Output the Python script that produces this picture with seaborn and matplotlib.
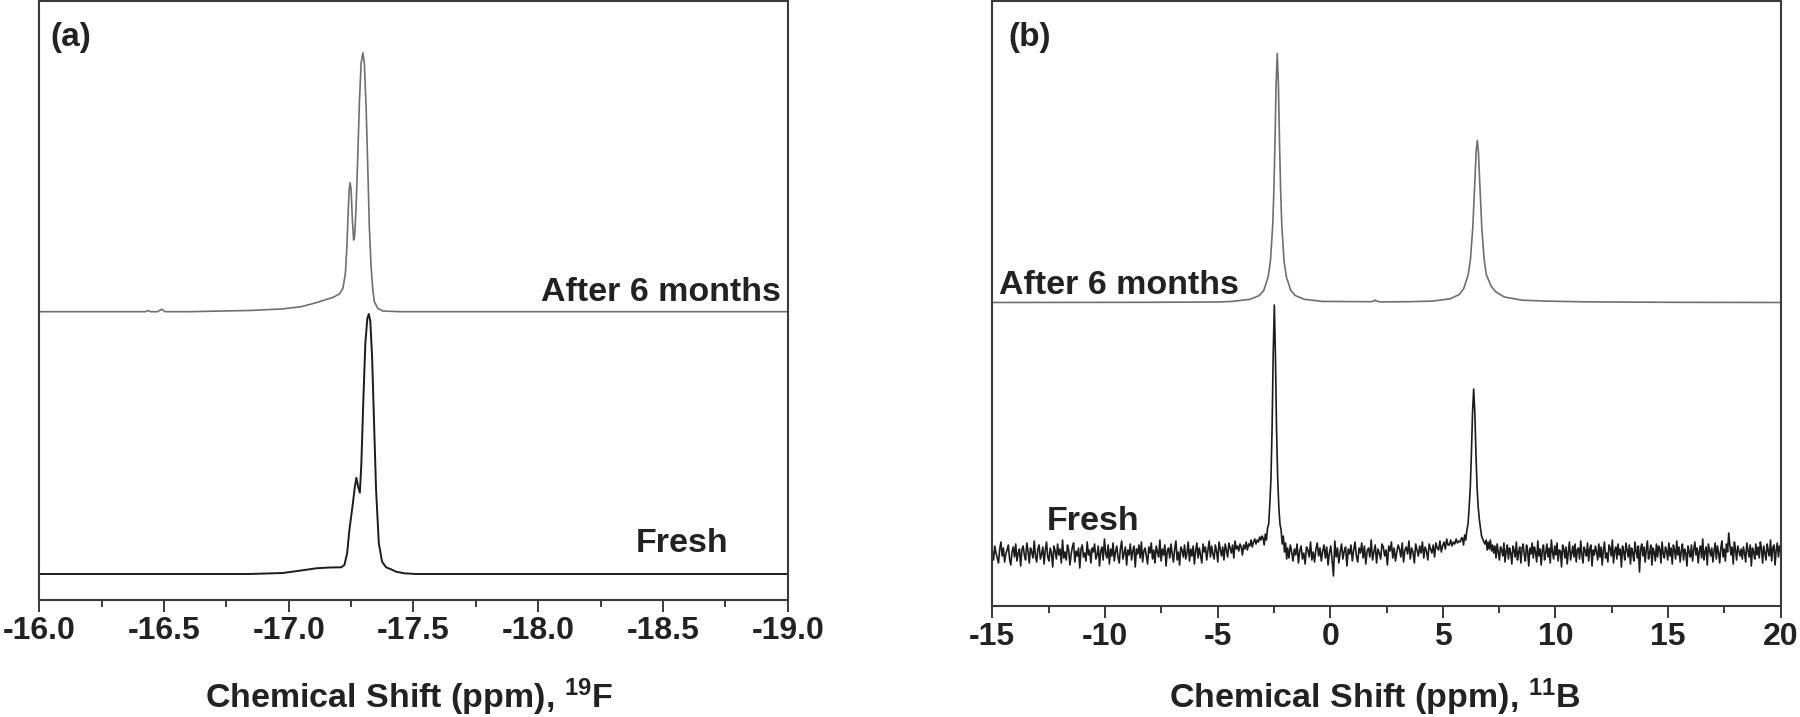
import numpy as np
import pandas as pd
import seaborn as sns
import matplotlib.pyplot as plt
from matplotlib.ticker import MultipleLocator, FormatStrFormatter

# ---------- (a) 19F spectra : ppm / intensity above own baseline ----------
f_after_ppm = [-16.0, -16.40, -16.425, -16.435, -16.445, -16.475, -16.49, -16.505,
               -16.6, -16.75, -16.842, -16.976, -17.05, -17.110, -17.177, -17.203,
               -17.217, -17.227, -17.233, -17.238, -17.242, -17.246, -17.250, -17.255,
               -17.260, -17.264, -17.270, -17.277, -17.283, -17.290, -17.297, -17.303,
               -17.310, -17.317, -17.323, -17.330, -17.337, -17.343, -17.357, -17.377,
               -17.444, -19.0]
f_after_int = [0, 0, 0, 1.2, 0, 0, 2.5, 0,
               0, 0.8, 1.2, 2.8, 5, 9, 14.3, 17.7,
               23.3, 38.3, 65, 98.3, 121.7, 129, 121.7, 91.7,
               71.7, 75, 105, 158.3, 208.3, 248.3, 259, 248.3,
               205, 141.7, 85, 45, 21.7, 10, 3.3, 0.7,
               0, 0]

f_fresh_ppm = [-16.0, -16.5, -16.842, -16.976, -17.043, -17.110, -17.163, -17.210,
               -17.223, -17.234, -17.243, -17.257, -17.265, -17.271, -17.278, -17.285,
               -17.291, -17.299, -17.307, -17.315, -17.321, -17.327, -17.334, -17.342,
               -17.350, -17.361, -17.374, -17.390, -17.410, -17.430, -17.463, -17.510,
               -18.2, -19.0]
f_fresh_int = [0, 0, 0, 1, 3.3, 5.7, 6.5, 6.7,
               9, 20.7, 44, 70.7, 87.3, 96.3, 87.3, 81.3,
               110.7, 174, 230.7, 255.7, 260, 252.3, 217.3, 150.7,
               84, 30.7, 12.3, 6.7, 4.7, 2.3, 0.7, 0,
               0, 0]

# ---------- (b) 11B spectra ----------
b_after_ppm = [-15, -8, -5, -4.35, -3.55, -3.15, -2.95, -2.75, -2.65, -2.55, -2.5, -2.45,
               -2.4, -2.35, -2.3, -2.25, -2.2, -2.15, -2.05, -1.95, -1.75, -1.55, -1.15,
               -0.35, 1.8, 1.95, 2.0, 2.05, 2.2, 3.5, 4.53, 5.33, 5.73, 5.93, 6.13, 6.23,
               6.33, 6.43, 6.48, 6.53, 6.58, 6.63, 6.73, 6.83, 6.93, 7.13, 7.33, 7.73,
               8.53, 9.53, 11.5, 15, 20]
b_after_int = [0, 0.2, 0.5, 1.1, 3.2, 7, 12, 26, 42, 78, 112, 161,
               219, 249, 219, 161, 112, 78, 42, 26, 12, 7, 3.2,
               1.1, 0.8, 1.5, 2.5, 1.5, 0.6, 0.8, 1.4, 3.7, 8, 14, 28, 44,
               75, 125, 151, 162, 151, 125, 75, 44, 28, 17, 11, 5.5,
               2.3, 1.4, 0.6, 0.2, 0]

# fresh sample: noisy baseline pieces and the two peaks
noise_1 = [3, -6, 8, 1, -4, -9, 5, 12, -2, 6, -8, 0, 4, 9, -5, -11, 2, 7, -3, 10,
           -7, 1, 5, -12, 4, 8, -1, -6, 11, 3, -9, 6, 2, -4, 13, -2, -8, 5, 9, -5,
           0, 7, -10, 4, 12, -3, -7, 6, 1, -13, 8, 3, -5, 10, -1, 5, -9, 14, -4, 2,
           -6, 9, 4, -11, 0, 7, 11, -8, 3, -2, 6, -14, 5, 9, -3, 1, -7, 12, -1, 4,
           -9, 6, 2, 10, -5, -1, 8, -12, 3, 7, -6, 15, 1, -4, 9, -10, 5, -2, 11, -7,
           2, 8, -3, -9, 6, 13, -5, 1, 7, -11, 4, -1, 10, -6, 3, 8, -13, 5, 0, 9,
           -4, 12, -8, 3, 6, -2, -10, 7, 1, 11, -5, 4, -9, 8, 2, -3, 14, -7, 5, -1,
           9, -12, 3, 6, -4, 10, 0, -8, 5, 13, -6, 2, -11, 7, 4, -3, 9, -5, 1, 12,
           -7, 5, -2, 8, -10, 3, 11, -4, 6, -1, -9, 10, 2, 7, -6, 4, 13, -3, 8, 0,
           -5, 9, 3, -8, 12, 5, -2, 7, -6, 10, 4, -3, 11, 6, 1, 9, -4, 13, 5, 8,
           3, 10, 7, -1, 9, 5, 12, 4, 10, 8, 14, 7, 12, 15, 10, 14, 12, 17, 14, 18]
peak1_ppm = [-2.98, -2.93, -2.88, -2.83, -2.78, -2.73, -2.68, -2.63, -2.58, -2.53, -2.48,
             -2.43, -2.38, -2.33, -2.28, -2.23, -2.18, -2.13, -2.08, -2.03, -1.98, -1.93]
peak1_int = [16, 9, 20, 14, 26, 30, 50, 75, 125, 200, 249,
             197, 123, 75, 47, 30, 24, 10, 18, 2, 11, -5]
noise_2 = [6, -4, 9, 2, -7, 5, -1, 10, -9, 3, 8, -5, 1, -10, 7, 4, -3, 12, -6, 2,
           -8, 5, 11, -2, 6, -7, 3, 9, -4, 7, -11, 1, 8, -6, -22, 13, -3, 6, -9, 2,
           10, -5, 3, 7, -12, 5, 0, 9, -7, 4, 12, -2, -8, 6, 1, 11, -4, 8, -10, 3,
           6, -3, 14, -6, 2, 9, -9, 5, 1, -5, 10, 7, -2, 4, -11, 8, 3, 12, -4, 6,
           -7, 2, 9, 5, -3, 11, -8, 4, 7, 0, 13, -5, 6, 2, -9, 10, 4, -2, 8, 1,
           12, -4, 7, 3, -6, 10, 5, 1, 9, -3, 11, 6, 4, 13, 2, 8, 12, 5, 15, 9,
           9, 14, 8, 12, 10, 15, 11, 13, 12, 16]
peak2_ppm = [5.87, 5.92, 5.97, 6.02, 6.07, 6.12, 6.17, 6.22, 6.27, 6.32, 6.37, 6.42,
             6.47, 6.52, 6.57, 6.62, 6.67, 6.72, 6.77, 6.82, 6.87, 6.92, 6.97]
peak2_int = [16, 9, 19, 14, 24, 30, 47, 67, 101, 142, 165, 142,
             101, 67, 47, 35, 26, 18, 15, 12, 10, 14, 4]
noise_3 = [12, 5, 14, 3, 9, 1, 8, -4, 10, 2, -6, 7, 4, -2, 11, -8, 3, 9, -5, 6,
           1, -10, 8, 4, -3, 12, -6, 2, 7, -9, 5, 10, -1, -7, 9, 3, -12, 6, 0, 11,
           -4, 7, 2, -8, 13, -2, 5, -11, 4, 9, -6, 1, 10, -3, 6, -9, 14, 2, -5, 8,
           -1, 11, -7, 4, 3, -13, 9, 5, -4, 7, -10, 2, 12, -6, 1, 8, -3, 10, -8, 4,
           6, -5, 13, 0, -9, 7, 3, -2, 11, -7, 5, 9, -12, 4, -1, 8, 2, -6, 10, -3,
           7, -11, 4, 12, -4, 1, -8, 9, 6, -2, 14, -9, 3, 7, -5, 10, -1, 5, -13, 8,
           2, -6, 11, 4, -3, 9, -10, 6, 1, -7, 12, 3, -4, 8, -18, 5, 10, -2, 7, -8,
           4, 13, -5, 1, 9, -11, 6, 2, -7, 10, -3, 8, 5, -9, 12, 0, -4, 7, 3, -6,
           11, -2, 6, -10, 9, 4, -5, 13, -1, 7, -8, 3, 10, -6, 5, 1, -12, 8, 2, -3,
           9, -7, 4, 12, -1, 6, -9, 3, 8, -4, 15, -6, 2, 7, -11, 10, 4, -2, 6, -8,
           3, 11, -5, 8, 1, -9, 6, 13, -3, 5, -7, 10, 2, 21, 9, -1, 7, -10, 12, 4,
           -6, 8, 3, -2, 5, -5, 7, 1, -8, 11, 4, -3, 9, -12, 6, 2, -5, 10, -1, 7,
           -4, 12, 5, -9, 8, 1, -6, 10, 3, -2, 14, -7, 6, 9, -11, 4, 11, -3, 8, 2]

# stacking offsets (in plot units)
F_AFTER_BASE, F_FRESH_BASE = 288.3, 26
B_AFTER_BASE, B_FRESH_BASE = 303.5, 52

GRAY = '#6f6f6f'
DARK = '#1c1c1c'

sns.set_style('white')
plt.rcParams['font.family'] = ['Liberation Sans', 'DejaVu Sans']
plt.rcParams['font.weight'] = 'bold'
plt.rcParams['axes.unicode_minus'] = False

fig = plt.figure(figsize=(18, 7.17), dpi=100)
ax1 = fig.add_axes([0.02183, 0.16318, 0.41578, 0.83473])
ax2 = fig.add_axes([0.55128, 0.15481, 0.43800, 0.84310])

# panel (a)
sns.lineplot(x=f_after_ppm, y=np.array(f_after_int) + F_AFTER_BASE, ax=ax1,
             color=GRAY, linewidth=1.2, estimator=None)
sns.lineplot(x=f_fresh_ppm, y=np.array(f_fresh_int) + F_FRESH_BASE, ax=ax1,
             color=DARK, linewidth=1.4, estimator=None)
ax1.set_xlim(-16.0, -19.0)
ax1.set_ylim(0, 598.5)
ax1.xaxis.set_major_locator(MultipleLocator(0.5))
ax1.xaxis.set_minor_locator(MultipleLocator(0.25))
ax1.xaxis.set_major_formatter(FormatStrFormatter('%.1f'))
ax1.text(0.0143, 0.966, '(a)', transform=ax1.transAxes, fontsize=24,
         fontweight='bold', va='top', ha='left', color='#222222')
ax1.text(0.9905, 0.50, 'After 6 months', transform=ax1.transAxes, fontsize=24.5,
         fontweight='bold', va='baseline', ha='right', color='#222222')
ax1.text(0.9202, 0.080, 'Fresh', transform=ax1.transAxes, fontsize=24.5,
         fontweight='bold', va='baseline', ha='right', color='#222222')
ax1.set_xlabel(r'Chemical Shift (ppm), $\mathregular{^{19}}$F', fontsize=24.5,
               fontweight='bold', color='#222222')
ax1.xaxis.set_label_coords(0.494, -0.127)

# panel (b)
fresh_ppm = np.concatenate([np.linspace(-15, -3.02, len(noise_1)), peak1_ppm,
                            np.linspace(-1.89, 5.83, len(noise_2)), peak2_ppm,
                            np.linspace(7.01, 20, len(noise_3))])
fresh_int = np.concatenate([noise_1, peak1_int, noise_2, peak2_int, noise_3])
df_fresh = pd.DataFrame({'ppm': fresh_ppm, 'y': fresh_int + B_FRESH_BASE})

sns.lineplot(x=b_after_ppm, y=np.array(b_after_int) + B_AFTER_BASE, ax=ax2,
             color=GRAY, linewidth=1.2, estimator=None)
sns.lineplot(data=df_fresh, x='ppm', y='y', ax=ax2, color=DARK,
             linewidth=1.2, estimator=None)
ax2.set_xlim(-15, 20)
ax2.set_ylim(0, 604.5)
ax2.xaxis.set_major_locator(MultipleLocator(5))
ax2.xaxis.set_minor_locator(MultipleLocator(2.5))
ax2.xaxis.set_major_formatter(FormatStrFormatter('%d'))
ax2.text(0.02, 0.966, '(b)', transform=ax2.transAxes, fontsize=24,
         fontweight='bold', va='top', ha='left', color='#222222')
ax2.text(0.0082, 0.5163, 'After 6 months', transform=ax2.transAxes, fontsize=24.5,
         fontweight='bold', va='baseline', ha='left', color='#222222')
ax2.text(0.0694, 0.125, 'Fresh', transform=ax2.transAxes, fontsize=24.5,
         fontweight='bold', va='baseline', ha='left', color='#222222')
ax2.set_xlabel(r'Chemical Shift (ppm), $\mathregular{^{11}}$B', fontsize=24.5,
               fontweight='bold', color='#222222')
ax2.xaxis.set_label_coords(0.485, -0.116)

for ax in (ax1, ax2):
    ax.set_ylabel('')
    ax.set_yticks([])
    for sp in ax.spines.values():
        sp.set_color('#3a3a3a')
        sp.set_linewidth(1.5)
        sp.set_visible(True)
    ax.tick_params(axis='x', which='major', direction='out', length=8.6, width=1.4,
                   color='#3a3a3a', labelsize=23, pad=3, bottom=True)
    ax.tick_params(axis='x', which='minor', direction='out', length=5, width=1.4,
                   color='#3a3a3a', bottom=True)
    for lab in ax.get_xticklabels():
        lab.set_fontweight('bold')
        lab.set_color('#222222')

fig.savefig('out.png', dpi=100)
